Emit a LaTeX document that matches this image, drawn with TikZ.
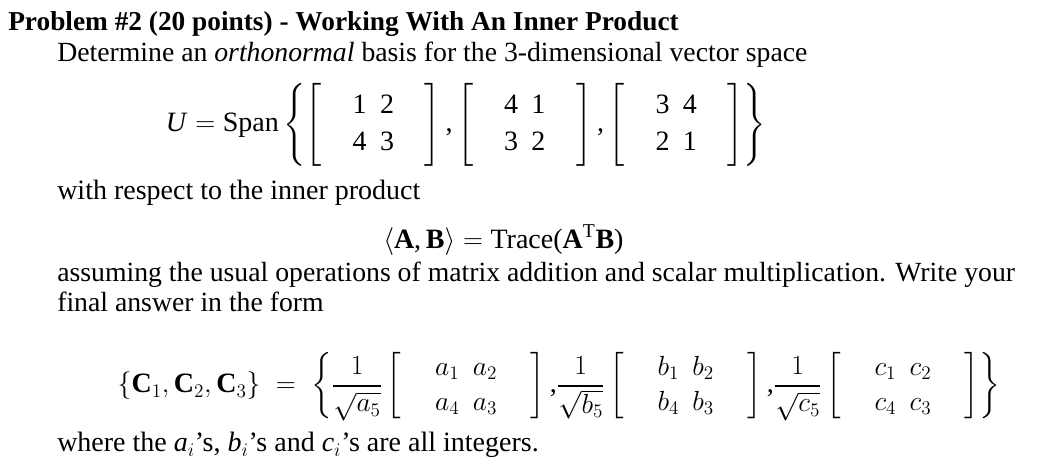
\documentclass[tikz,border=0pt]{standalone}
\usepackage{amsmath}
\usepackage{fontspec}
\setmainfont{Liberation Serif}
\begin{document}
\begin{tikzpicture}[x=0.75pt,y=-0.75pt,
  txt/.style={anchor=base west,inner sep=0pt,font=\fontsize{21}{25}\selectfont},
  mth/.style={inner sep=0pt,font=\fontsize{21}{25}\selectfont}]
\useasboundingbox[fill=white] (0,0) rectangle (1043,473);
\node[txt,font=\fontsize{20.5}{24}\selectfont\bfseries] (t) at (8,31) {Problem \#2 (20 points) - Working With An Inner Product};
\node[txt,font=\fontsize{20.8}{25}\selectfont] (l1) at (57,62) {Determine an \textit{orthonormal} basis for the 3-dimensional vector space};
\node[mth] (span) at (466,125) {$\renewcommand{\arraystretch}{1.1}
\text{\textit{U}} = \text{Span}\left\{\left[\begin{array}{@{\hskip1.1em}cc@{\hskip1.1em}}\text{1}&\text{2}\\ \text{4}&\text{3}\end{array}\right]\text{,}\left[\begin{array}{@{\hskip1.1em}cc@{\hskip1.1em}}\text{4}&\text{1}\\ \text{3}&\text{2}\end{array}\right]\text{,}\left[\begin{array}{@{\hskip1.1em}cc@{\hskip1.1em}}\text{3}&\text{4}\\ \text{2}&\text{1}\end{array}\right]\right\}$};
\node[txt] (l2) at (57,200) {with respect to the inner product};
\node[txt] (ip) at (383,249) {$\langle\textbf{A}\text{,\,}\textbf{B}\rangle = \text{Trace(}\textbf{A}^{\mathrm{T}}\textbf{B}\text{)}$};
\node[txt,font=\fontsize{20.8}{25}\selectfont] (l3) at (57,282) {assuming the usual operations of matrix addition and scalar multiplication. Write your};
\node[txt,font=\fontsize{20.8}{25}\selectfont] (l4) at (57,312) {final answer in the form};
\node[mth] (set) at (559,386) {$\renewcommand{\arraystretch}{1.05}
\{\textbf{C}_1,\textbf{C}_2,\textbf{C}_3\} \;=\; \left\{\dfrac{1}{\sqrt{a_5}}\left[\begin{array}{@{\hskip1.2em}cc@{\hskip1.2em}}a_1&a_2\\ a_4&a_3\end{array}\right]\text{,}\dfrac{1}{\sqrt{b_5}}\left[\begin{array}{@{\hskip1.2em}cc@{\hskip1.2em}}b_1&b_2\\ b_4&b_3\end{array}\right]\text{,}\dfrac{1}{\sqrt{c_5}}\left[\begin{array}{@{\hskip1.2em}cc@{\hskip1.2em}}c_1&c_2\\ c_4&c_3\end{array}\right]\right\}$};
\node[txt] (l5) at (57,452) {where the \textit{a$_i$}’s, \textit{b$_i$}’s and \textit{c$_i$}’s are all integers.};
\end{tikzpicture}
\end{document}
